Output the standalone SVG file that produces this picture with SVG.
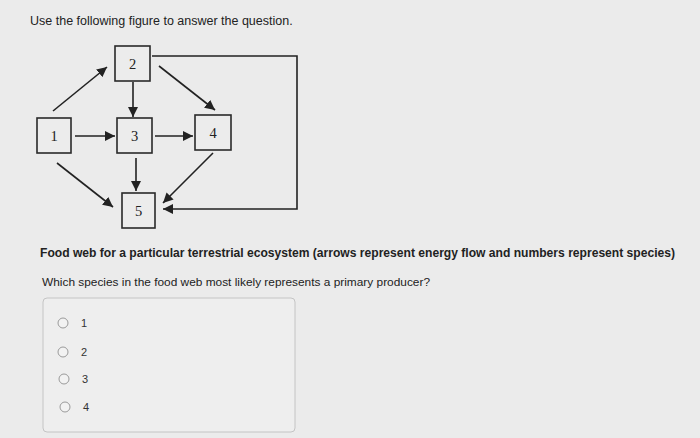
<svg xmlns="http://www.w3.org/2000/svg" width="700" height="438" viewBox="0 0 700 438">
<style>
.bg{fill:#ebebeb}
.node rect{fill:#ececec;stroke:#2a2a2a;stroke-width:1.6}
.node text{font-family:"Liberation Serif",serif;font-size:14.5px;fill:#222;text-anchor:middle}
.edge{stroke:#222;stroke-width:1.6;fill:none}
.t{font-family:"Liberation Sans",Arial,sans-serif;fill:#222}
.opt circle{fill:#f2f2f2;stroke:#9a9a9a;stroke-width:1}
.opt text{font-family:"Liberation Sans",Arial,sans-serif;font-size:11px;fill:#333}
</style>
<defs>
<marker id="ah2" viewBox="0 0 10 10" refX="10" refY="5" markerWidth="10" markerHeight="10" markerUnits="userSpaceOnUse" orient="auto">
<path d="M0,0 L10,5 L0,10 z" fill="#222"/>
</marker>
</defs>
<rect class="bg" x="0" y="0" width="700" height="438"/>
<text class="t" x="30" y="25" font-size="12.5">Use the following figure to answer the question.</text>
<g id="connectors">
<line class="edge" x1="53" y1="111" x2="107" y2="67" marker-end="url(#ah2)"/>
<line class="edge" x1="133" y1="82" x2="133" y2="117" marker-end="url(#ah2)"/>
<line class="edge" x1="159" y1="66" x2="215" y2="110" marker-end="url(#ah2)"/>
<line class="edge" x1="75" y1="136" x2="115" y2="136" marker-end="url(#ah2)"/>
<line class="edge" x1="155" y1="136" x2="193" y2="136" marker-end="url(#ah2)"/>
<line class="edge" x1="136" y1="158" x2="136" y2="191" marker-end="url(#ah2)"/>
<line class="edge" x1="57" y1="163" x2="113" y2="207" marker-end="url(#ah2)"/>
<line class="edge" x1="213" y1="153" x2="163" y2="203" marker-end="url(#ah2)"/>
<polyline class="edge" points="152,56 297,56 297,209 163,209" marker-end="url(#ah2)"/>
</g>
<g id="node1" class="node"><rect x="37" y="118" width="34" height="35"/><text x="54" y="141">1</text></g>
<g id="node2" class="node"><rect x="115" y="46" width="35" height="35"/><text x="132.5" y="69">2</text></g>
<g id="node3" class="node"><rect x="117" y="118" width="35" height="35"/><text x="134.5" y="141">3</text></g>
<g id="node4" class="node"><rect x="195" y="115" width="36" height="35"/><text x="213" y="138">4</text></g>
<g id="node5" class="node"><rect x="122" y="193" width="33" height="35"/><text x="138.5" y="216">5</text></g>
<text class="t" x="40" y="257" font-size="12" font-weight="bold" textLength="635" lengthAdjust="spacingAndGlyphs">Food web for a particular terrestrial ecosystem (arrows represent energy flow and numbers represent species)</text>
<text class="t" x="42" y="286" font-size="11.5" textLength="388" lengthAdjust="spacingAndGlyphs">Which species in the food web most likely represents a primary producer?</text>
<rect x="43" y="298" width="252" height="134" rx="4" fill="#eeeeee" stroke="#c4c4c4" stroke-width="1"/>
<g class="opt">
<circle cx="63" cy="323" r="5"/><text x="81" y="327">1</text>
<circle cx="63" cy="352" r="5"/><text x="81" y="356">2</text>
<circle cx="64" cy="379" r="5"/><text x="82" y="383">3</text>
<circle cx="65" cy="407" r="5"/><text x="83" y="411">4</text>
</g>
</svg>
